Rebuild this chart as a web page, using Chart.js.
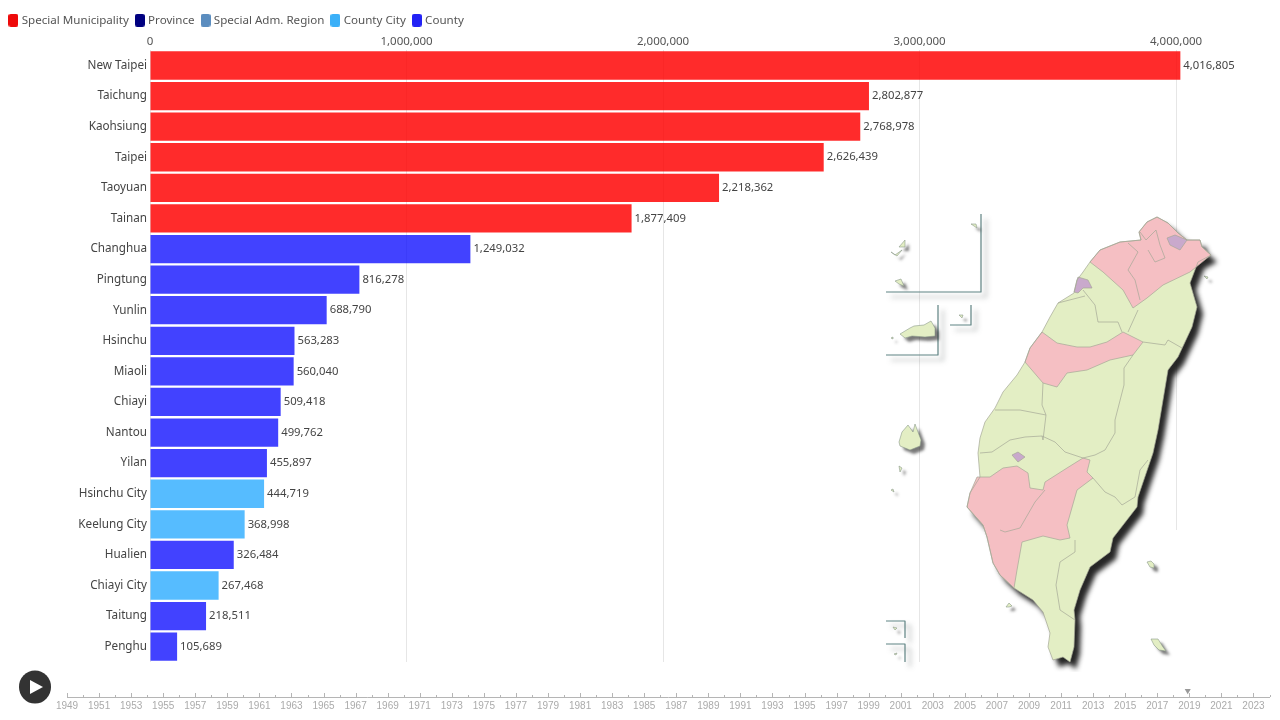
<!DOCTYPE html>
<html><head><meta charset="utf-8">
<style>html,body{margin:0;padding:0;background:#fff;overflow:hidden}
#main{position:absolute;left:0;top:0;width:1280px;height:672px}
#line{position:absolute;left:0;top:662px;width:1280px;height:58px}
</style>
<script src="https://cdn.jsdelivr.net/npm/chart.js@4"></script>
</head><body>
<div id="main"><canvas id="c1"></canvas></div>
<div id="line"><canvas id="c2"></canvas></div>
<script>
const categories=["New Taipei","Taichung","Kaohsiung","Taipei","Taoyuan","Tainan","Changhua","Pingtung","Yunlin","Hsinchu","Miaoli","Chiayi","Nantou","Yilan","Hsinchu City","Keelung City","Hualien","Chiayi City","Taitung","Penghu"];
const values=[4016805,2802877,2768978,2626439,2218362,1877409,1249032,816278,688790,563283,560040,509418,499762,455897,444719,368998,326484,267468,218511,105689];
const categoryTypes=["Special Municipality","Special Municipality","Special Municipality","Special Municipality","Special Municipality","Special Municipality","County","County","County","County","County","County","County","County","County City","County City","County","County City","County","County"];
const legendTypes=["Special Municipality","Province","Special Adm. Region","County City","County"];
const axisTicks=[0,1000000,2000000,3000000,4000000];
const barColors=["rgba(255,0,0,.83)","rgba(0,0,128,.8)","rgba(70,130,180,.85)","rgba(30,165,255,.75)","rgba(0,0,255,.74)"];
const legendColors=["#ee0a0a","#000080","#5b8dbf","#3bb0f8","#2222f5"];
const timelineYears=[1949,2024];
const currentYear=2018.9;

// Decorative base map (page pixels), not chart data
const islandOutline=[[1157,217],[1147,222],[1139,232],[1141,240],[1120,242],[1100,250],[1090,262],[1083,272],[1077,280],[1074,293],[1058,303],[1050,317],[1042,332],[1030,348],[1025,362],[1017,375],[1003,392],[995,408],[985,422],[980,438],[978,453],[980,477],[970,493],[967,507],[983,525],[987,537],[993,563],[1000,575],[1014,588],[1033,600],[1043,612],[1050,633],[1048,647],[1053,660],[1063,657],[1070,662],[1074,647],[1075,620],[1074,610],[1080,590],[1090,567],[1110,552],[1113,538],[1137,507],[1138,497],[1153,453],[1158,430],[1163,400],[1168,370],[1178,357],[1192,327],[1197,307],[1190,283],[1198,262],[1211,255],[1202,247],[1200,240],[1187,240],[1178,233],[1168,223]];
const pinkAreas=[
[[1157,217],[1147,222],[1139,232],[1141,240],[1120,242],[1100,250],[1090,262],[1103,272],[1123,290],[1133,308],[1147,298],[1163,285],[1190,272],[1211,255],[1202,247],[1200,240],[1187,240],[1178,233],[1168,223]],
[[1042,332],[1057,343],[1077,347],[1090,347],[1107,342],[1123,332],[1143,342],[1133,355],[1110,360],[1087,370],[1067,373],[1057,387],[1043,383],[1025,362],[1030,348]],
[[977,477],[990,477],[1003,468],[1017,466],[1028,473],[1030,488],[1043,490],[1045,482],[1067,468],[1083,458],[1090,460],[1087,472],[1093,478],[1077,490],[1067,525],[1070,538],[1060,540],[1043,536],[1022,542],[1017,570],[1014,588],[1000,575],[993,563],[987,537],[983,525],[967,507],[970,493]]];
const purpleAreas=[
[[1167,238],[1175,235],[1187,240],[1180,250],[1170,245]],
[[1077,280],[1078,277],[1088,280],[1092,288],[1083,288],[1078,293],[1074,292]],
[[1012,455],[1018,452],[1025,457],[1018,462]]];
const borderLines=[
[[1128,243],[1138,252],[1128,270],[1135,280],[1140,300]],
[[1140,232],[1146,240],[1156,230],[1160,245],[1165,258],[1155,262],[1148,250]],
[[1083,290],[1095,305],[1098,322],[1118,322],[1122,332]],
[[1058,303],[1085,296]],
[[1138,310],[1128,332]],
[[1143,342],[1165,345],[1168,340],[1182,348]],
[[1043,383],[1042,405],[1046,415],[1020,410],[995,410]],
[[1046,415],[1043,440],[1042,436],[1055,442],[1065,452],[1083,458]],
[[1133,355],[1124,368],[1124,385],[1115,420],[1115,433],[1105,450],[1095,455],[1083,458]],
[[980,453],[992,452],[1010,440],[1025,437],[1042,436]],
[[1093,478],[1105,492],[1115,497],[1122,505],[1135,497],[1140,470],[1148,460]],
[[1000,530],[1005,532],[1020,528],[1035,502],[1045,490]],
[[1075,540],[1075,552],[1060,562],[1056,585],[1060,610],[1075,620]]];
const offshoreIslands=[
[[891,252],[897,256],[902,250],[895,255]],[[899,247],[905,240],[905,247]],[[895,281],[901,279],[904,286],[899,284]],[[971,224],[976,224],[977,228]],[[959,315],[963,315],[962,318]],
[[900,334],[910,328],[914,326],[924,325],[931,321],[935,328],[935,336],[925,337],[912,336],[905,338]],[[891,338],[893,337],[893,339]],
[[899,442],[902,432],[908,425],[913,432],[915,424],[921,440],[920,446],[910,450],[900,446]],[[899,466],[902,468],[900,472]],[[891,490],[893,489],[894,492]],
[[1147,562],[1151,561],[1154,564],[1154,568],[1150,567]],[[1151,639],[1158,639],[1163,647],[1166,651],[1159,650],[1154,645]],[[1006,607],[1009,603],[1012,606],[1009,607]],[[1204,276],[1208,277],[1207,279]],
[[893,627],[897,628],[895,630]],[[894,654],[897,653],[896,655]]];
const insetFrames=[
[[886,292],[981,292],[981,214]],[[886,355],[938,355],[938,305]],[[950,325],[971,325],[971,305]],[[886,621],[905,621],[905,638]],[[886,644],[905,644],[905,662]]];

function trace(ctx,pts,close){ctx.beginPath();pts.forEach((p,i)=>i?ctx.lineTo(p[0],p[1]):ctx.moveTo(p[0],p[1]));if(close)ctx.closePath();}
const mapPlugin={id:'map',afterDraw(chart){
 const ctx=chart.ctx;ctx.save();
 ctx.lineJoin='round';
 insetFrames.forEach(f=>{ctx.save();ctx.shadowColor='rgba(60,70,70,.55)';ctx.shadowBlur=5;ctx.shadowOffsetX=5;ctx.shadowOffsetY=5;trace(ctx,f,false);ctx.strokeStyle='#5f8383';ctx.lineWidth=1.2;ctx.stroke();ctx.restore();});
 offshoreIslands.forEach(f=>{ctx.save();ctx.shadowColor='rgba(30,30,30,.6)';ctx.shadowBlur=3;ctx.shadowOffsetX=4;ctx.shadowOffsetY=4;trace(ctx,f,true);ctx.fillStyle='#e3eec4';ctx.fill();ctx.restore();trace(ctx,f,true);ctx.strokeStyle='#8c9a8c';ctx.lineWidth=.6;ctx.stroke();});
 ctx.save();ctx.shadowColor='rgba(15,15,15,.9)';ctx.shadowBlur=5;ctx.shadowOffsetX=6;ctx.shadowOffsetY=7;trace(ctx,islandOutline,true);ctx.fillStyle='#e3eec4';ctx.fill();ctx.restore();
 pinkAreas.forEach(a=>{trace(ctx,a,true);ctx.fillStyle='#f5bfc3';ctx.fill();});
 purpleAreas.forEach(a=>{trace(ctx,a,true);ctx.fillStyle='#c9a9cc';ctx.fill();});
 ctx.strokeStyle='#a5a797';ctx.lineWidth=.7;
 pinkAreas.concat(purpleAreas).forEach(a=>{trace(ctx,a,true);ctx.stroke();});
 borderLines.forEach(l=>{trace(ctx,l,false);ctx.stroke();});
 trace(ctx,islandOutline,true);ctx.stroke();
 ctx.restore();
}};
const valueLabels={id:'valueLabels',afterDatasetsDraw(chart){
 const ctx=chart.ctx,x=chart.scales.x,y=chart.scales.y;ctx.save();
 ctx.font='11.3px "Noto Sans"';ctx.fillStyle='#444';ctx.textBaseline='middle';ctx.textAlign='left';
 values.forEach((v,i)=>ctx.fillText(v.toLocaleString('en-US'),x.getPixelForValue(v)+3,y.getPixelForValue(i)));
 ctx.restore();
}};
const gridTrim={id:'gridTrim',beforeDatasetsDraw(chart){
 const ctx=chart.ctx,x=chart.scales.x;ctx.save();ctx.fillStyle='#fff';
 ctx.fillRect(x.getPixelForValue(4000000)-2,530,4,chart.chartArea.bottom-530+1);ctx.restore();
}};
function marker(color){const c=document.createElement('canvas');c.width=10;c.height=13;const g=c.getContext('2d');g.fillStyle=color;g.beginPath();g.roundRect(0,0,10,13,2.5);g.fill();return c;}
const datasets=legendTypes.map((t,k)=>({label:t,data:values.map((v,i)=>categoryTypes[i]===t?v:null),backgroundColor:barColors[k],barPercentage:.925,categoryPercentage:1}));
new Chart(document.getElementById('c1'),{type:'bar',data:{labels:categories,datasets},
 options:{indexAxis:'y',responsive:true,maintainAspectRatio:false,animation:false,devicePixelRatio:1,
 layout:{padding:{left:2.5,right:27,top:6,bottom:.5}},
 plugins:{tooltip:{enabled:false},legend:{position:'top',align:'start',onClick:null,labels:{usePointStyle:true,pointStyleWidth:5,boxHeight:12,padding:8.4,color:'#555',font:{family:'"Noto Sans"',size:11.6},
  generateLabels(chart){return Chart.defaults.plugins.legend.labels.generateLabels(chart).map((l,i)=>({...l,pointStyle:marker(legendColors[i]),hidden:false}));}}}},
 scales:{x:{type:'linear',position:'top',stacked:true,min:0,max:4300000,
   afterBuildTicks(s){s.ticks=axisTicks.map(value=>({value}));},
   afterFit(s){s.height=50.2-6-s.chart.legend.height;},
   border:{display:false},grid:{color:'#e6e6e6',drawTicks:false},
   ticks:{padding:1.5,maxRotation:0,color:'#555',font:{family:'"Noto Sans"',size:11.5},callback:v=>v.toLocaleString('en-US')}},
  y:{type:'category',stacked:true,afterFit(s){s.width=147.5;},border:{display:false},grid:{display:false,drawTicks:false},
   ticks:{padding:3,autoSkip:false,color:'#444',font:{family:'"Noto Sans"',size:11.7}}}}},
 plugins:[gridTrim,valueLabels,mapPlugin]});

const timelineDecor={id:'timelineDecor',afterDraw(chart){
 const ctx=chart.ctx,x=chart.scales.x,base=chart.chartArea.bottom;ctx.save();
 ctx.strokeStyle='#b5b5b5';ctx.lineWidth=1;
 x.ticks.forEach(t=>{const p=Math.round(x.getPixelForValue(t.value))+.5,odd=t.value%2===1;ctx.beginPath();ctx.moveTo(p,base);ctx.lineTo(p,base-(odd?4:2));ctx.stroke();});
 ctx.fillStyle='#333';ctx.beginPath();ctx.ellipse(35,25,16,16.5,0,0,Math.PI*2);ctx.fill();
 ctx.fillStyle='#fff';ctx.beginPath();ctx.moveTo(30,18);ctx.lineTo(43,25);ctx.lineTo(30,32);ctx.closePath();ctx.fill();
 ctx.restore();
}};
new Chart(document.getElementById('c2'),{type:'scatter',data:{datasets:[{data:[{x:currentYear,y:.2}],pointStyle:'triangle',rotation:180,radius:3.5,backgroundColor:'#999',borderWidth:0,clip:false}]},
 options:{responsive:true,maintainAspectRatio:false,animation:false,devicePixelRatio:1,
 layout:{padding:{left:67,right:10.5,top:0,bottom:0}},
 plugins:{legend:{display:false},tooltip:{enabled:false}},
 scales:{x:{type:'linear',min:timelineYears[0],max:timelineYears[1],afterFit(s){s.height=23;},
   border:{display:true,color:'#b5b5b5'},grid:{display:false,drawTicks:false},
   ticks:{stepSize:1,autoSkip:false,maxRotation:0,padding:3,color:'#ababab',font:{family:'"Liberation Sans"',size:10},callback:v=>v%2===1&&v<2024?String(v):''}},
  y:{display:false,min:0,max:1}}},
 plugins:[timelineDecor]});
</script>
</body></html>
